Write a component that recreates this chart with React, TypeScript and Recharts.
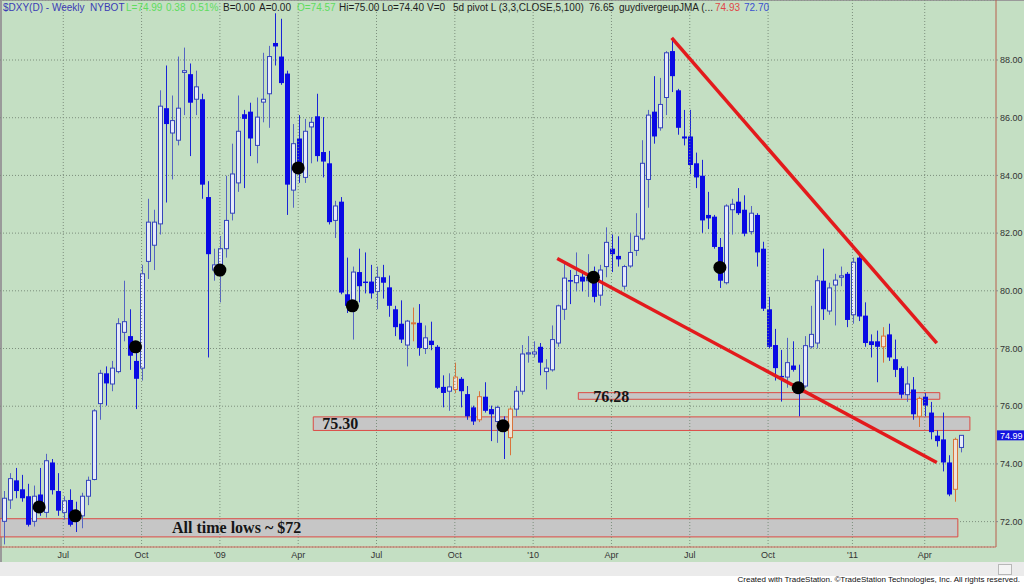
import React from "react";
import {
  ComposedChart,
  Bar,
  XAxis,
  YAxis,
  CartesianGrid,
  ReferenceArea,
  ReferenceLine,
  ReferenceDot,
} from "recharts";

// $DXY weekly bars, mid-Apr 2008 to mid-May 2011
const opens = [
  72.01, 72.75, 73.43, 73.12, 72.88, 72.01, 72.94, 72.32, 74.05, 73.06,
  72.32, 72.75, 72.38, 72.2, 72.88, 73.46, 76.09, 77.14, 76.77, 77.2,
  78.56, 78.43, 77.57, 77.32, 81.02, 81.58, 82.32, 86.33, 85.47, 85.22,
  87.57, 87.51, 86.64, 86.64, 83.25, 80.72, 80.72, 81.46, 82.69, 83.74,
  86.12, 86.21, 85.04, 86.54, 86.83, 88.59, 88.12, 87.53, 83.49, 85.28,
  83.93, 85.68, 86.05, 84.81, 84.42, 82.44, 83.09, 79.88, 79.48, 80.65,
  80.32, 80.32, 79.98, 80.47, 80.12, 79.36, 78.86, 78.12, 78.86, 78.89,
  78.0, 78.27, 78.06, 76.67, 76.52, 76.58, 76.95, 76.42, 75.96, 75.53,
  76.33, 75.9, 75.47, 75.47, 74.91, 75.9, 76.52, 77.81, 77.81, 78.06,
  77.2, 77.26, 78.19, 79.36, 80.37, 80.28, 80.49, 80.35, 80.47, 79.85,
  80.84, 81.46, 81.21, 80.16, 80.86, 81.4, 81.8, 83.86, 86.21, 85.65,
  86.7, 88.31, 86.95, 85.35, 85.35, 84.42, 83.99, 82.63, 82.57, 81.52,
  80.28, 82.81, 83.09, 82.81, 82.05, 82.63, 81.46, 79.36, 78.12, 77.05,
  77.01, 77.41, 76.83, 76.7, 78.06, 78.19, 80.35, 79.3, 80.2, 80.47,
  80.59, 79.17, 81.15, 79.14, 78.25, 78.25, 78.06, 78.49, 77.63, 77.32,
  76.4, 76.58, 75.65, 76.33, 75.78, 74.98, 74.85, 74.05, 73.12, 74.57,
];
const highs = [
  73.06, 73.68, 73.86, 73.62, 73.31, 73.25, 73.86, 74.35, 74.17, 73.68,
  72.88, 73.12, 72.69, 73.0, 73.56, 75.9, 77.26, 77.38, 77.57, 79.05,
  80.35, 79.36, 78.25, 80.9, 83.19, 82.81, 86.95, 87.81, 86.77, 88.12,
  88.43, 87.88, 87.63, 86.83, 83.8, 81.46, 81.9, 83.99, 85.1, 86.77,
  86.27, 86.52, 86.7, 88.25, 88.49, 89.62, 89.43, 87.63, 85.78, 86.09,
  85.96, 86.02, 86.83, 86.02, 84.85, 83.12, 83.25, 81.15, 80.84, 81.46,
  81.33, 80.9, 80.84, 80.9, 80.53, 79.48, 79.67, 78.99, 79.42, 79.54,
  78.8, 78.93, 78.12, 77.07, 77.14, 77.51, 77.01, 76.7, 76.02, 76.52,
  76.83, 76.02, 76.02, 75.65, 75.96, 76.7, 78.12, 78.43, 78.25, 78.19,
  77.63, 78.8, 79.52, 80.96, 80.72, 81.33, 80.72, 81.27, 80.84, 80.9,
  82.2, 81.95, 81.89, 80.9, 82.01, 82.69, 85.22, 86.27, 87.44, 87.38,
  88.31, 88.74, 87.0, 86.27, 86.27, 84.79, 84.54, 83.43, 82.63, 81.83,
  83.0, 83.19, 83.56, 83.31, 82.94, 82.69, 81.7, 79.79, 78.68, 77.95,
  78.37, 78.25, 77.44, 78.43, 79.48, 80.53, 81.46, 80.28, 80.59, 80.84,
  80.65, 81.15, 81.27, 79.6, 78.49, 78.62, 78.74, 78.86, 78.31, 77.38,
  77.38, 77.01, 76.33, 76.46, 76.15, 75.16, 75.78, 74.3, 74.91, 75.0,
];
const lows = [
  71.21, 72.44, 72.81, 72.69, 71.83, 71.83, 72.2, 72.14, 72.94, 72.2,
  72.07, 71.83, 71.64, 71.77, 72.57, 73.43, 75.53, 76.02, 76.52, 77.14,
  78.25, 77.26, 75.9, 76.89, 80.41, 80.72, 81.95, 83.06, 83.86, 85.04,
  86.09, 84.67, 86.09, 83.19, 77.69, 80.35, 79.6, 81.15, 82.44, 83.43,
  83.56, 84.67, 84.42, 85.84, 85.65, 87.81, 87.14, 82.63, 82.88, 83.74,
  83.74, 84.42, 84.48, 83.93, 82.3, 81.83, 79.88, 79.23, 78.31, 79.6,
  79.91, 79.73, 79.36, 79.73, 79.1, 78.43, 78.19, 77.38, 78.25, 77.75,
  77.81, 77.94, 76.6, 75.96, 75.84, 76.46, 75.96, 75.53, 75.35, 75.45,
  75.78, 74.79, 74.73, 74.17, 74.3, 75.65, 76.4, 77.51, 77.69, 77.07,
  76.58, 77.2, 78.06, 78.99, 79.54, 79.98, 79.98, 79.79, 79.6, 79.48,
  80.47, 80.65, 80.84, 80.04, 80.8, 81.21, 81.75, 82.88, 85.1, 85.55,
  86.09, 86.89, 85.41, 85.04, 84.05, 83.56, 82.01, 82.14, 81.46, 80.1,
  80.22, 81.95, 82.63, 81.89, 81.95, 80.84, 79.3, 78.0, 76.89, 76.16,
  76.64, 77.2, 75.65, 76.64, 78.0, 78.0, 78.99, 79.17, 78.8, 80.16,
  78.74, 78.86, 78.95, 78.06, 77.69, 76.83, 77.51, 77.57, 77.01, 76.27,
  76.15, 75.53, 75.28, 75.65, 74.85, 74.6, 73.74, 72.88, 72.69, 74.4,
];
const closes = [
  72.81, 73.49, 73.06, 72.81, 71.89, 72.88, 72.32, 74.11, 73.09, 72.38,
  72.72, 71.89, 72.01, 72.88, 73.43, 75.84, 77.14, 76.79, 77.32, 78.86,
  78.93, 77.75, 76.95, 80.59, 82.38, 82.38, 86.4, 85.78, 85.9, 86.33,
  87.63, 86.52, 87.07, 83.68, 81.27, 80.9, 81.46, 82.44, 84.05, 85.53,
  85.96, 85.28, 86.02, 86.64, 88.12, 88.47, 87.2, 83.68, 85.1, 84.3,
  85.53, 85.84, 84.67, 84.48, 82.38, 82.94, 79.94, 79.48, 80.65, 80.16,
  80.27, 79.91, 80.47, 80.28, 79.48, 78.74, 78.31, 78.95, 78.89, 78.02,
  78.37, 78.12, 76.64, 76.46, 76.67, 77.01, 76.52, 75.65, 75.47, 76.33,
  75.84, 75.72, 75.96, 75.16, 75.9, 76.52, 77.81, 77.85, 77.88, 77.51,
  77.32, 78.31, 79.48, 80.44, 80.32, 80.53, 80.32, 80.47, 79.79, 80.72,
  81.68, 81.27, 81.09, 80.84, 81.33, 81.89, 84.42, 86.09, 85.35, 86.46,
  88.25, 87.44, 85.65, 85.28, 84.36, 83.93, 82.44, 82.51, 81.52, 80.35,
  82.94, 83.0, 82.69, 81.98, 82.69, 81.33, 79.38, 78.06, 77.32, 77.0,
  77.51, 77.26, 76.52, 78.1, 78.49, 80.35, 79.36, 80.1, 80.37, 80.52,
  78.99, 80.99, 79.11, 78.19, 78.12, 78.06, 78.43, 77.69, 77.26, 76.4,
  76.77, 75.72, 76.27, 76.02, 75.1, 74.79, 74.05, 72.94, 74.85, 74.99,
];
// bars the study paints orange
const orangeBars = [68, 75, 79, 84, 146, 152, 158];

// 5d pivot markers
const pivotBars = [6, 12, 22, 36, 49, 58, 83, 98, 119, 132];
const pivotPrices = [72.51, 72.2, 78.06, 80.72, 84.26, 79.48, 75.32, 80.47, 80.81, 76.64];

// support zones
const zoneLabels = ["All time lows ~ $72", "75.30", "76.28"];
const zoneStartBars = [undefined, 52, 96];
const zoneEndBars = [158, 160, 155];
const zoneLows = [71.47, 75.16, 76.24];
const zoneHighs = [72.1, 75.63, 76.47];

// wedge trendlines
const trendFromBars = [111, 92];
const trendFromPrices = [88.77, 81.12];
const trendToBars = [155, 155];
const trendToPrices = [78.19, 74.05];

const monthTickBars = [10, 23, 36, 49, 62, 75, 88, 101, 114, 127, 141, 153];
const monthTickLabels = ["Jul", "Oct", "'09", "Apr", "Jul", "Oct", "'10", "Apr", "Jul", "Oct", "'11", "Apr"];
const priceTicks = [72, 74, 76, 78, 80, 82, 84, 86, 88];

const SLOTS = 165; // empty weeks on the right edge
const data = Array.from({ length: SLOTS }, (_, i) => ({
  i,
  o: opens[i],
  h: highs[i],
  l: lows[i],
  c: closes[i],
  orange: orangeBars.includes(i),
}));
const lastClose = closes[closes.length - 1];

const BG = "#c4dfc3";
const ZONE_LABEL_OFFSET = [172, 9, 15];

function Candle(props: any) {
  const { x, y, width, height, payload } = props;
  if (!payload || payload.o == null) return null;
  const { o, h, l, c, orange } = payload;
  const top = Math.min(y, y + height);
  const span = Math.abs(height);
  const py = (v: number) => top + ((h - v) / (h - l)) * span;
  const cx = Math.round(x + width / 2) + 0.5;
  const up = c >= o;
  const bTop = py(Math.max(o, c));
  const bH = Math.max(py(Math.min(o, c)) - bTop, 1);
  if (orange) {
    return (
      <g>
        <line x1={cx} x2={cx} y1={top} y2={top + span} stroke="#d9733a" />
        <rect x={cx - 2} y={bTop} width={4} height={bH} fill="#efe2d6" stroke="#d9733a" />
      </g>
    );
  }
  if (up) {
    return (
      <g>
        <line x1={cx} x2={cx} y1={top} y2={top + span} stroke="#5565c2" />
        <rect x={cx - 2} y={bTop} width={4} height={bH} fill="#e7ebf8" stroke="#3545bb" />
      </g>
    );
  }
  return (
    <g>
      <line x1={cx} x2={cx} y1={top} y2={top + span} stroke="#1a24d6" />
      <rect x={cx - 2.5} y={bTop} width={5} height={bH} fill="#0a0ae4" />
    </g>
  );
}

const header = [
  { x: 3, color: "#3b3bb5", text: "$DXY(D) - Weekly  NYBOT" },
  { x: 126, color: "#5fdc5f", text: "L=74.99" },
  { x: 166, color: "#5fdc5f", text: "0.38" },
  { x: 190, color: "#5fdc5f", text: "0.51%" },
  { x: 223, color: "#1e1e1e", text: "B=0.00" },
  { x: 259, color: "#1e1e1e", text: "A=0.00" },
  { x: 297, color: "#5fdc5f", text: "O=74.57" },
  { x: 339, color: "#1e1e1e", text: "Hi=75.00" },
  { x: 382, color: "#1e1e1e", text: "Lo=74.40" },
  { x: 427, color: "#1e1e1e", text: "V=0" },
  { x: 453, color: "#1e1e1e", text: "5d pivot L (3,3,CLOSE,5,100)" },
  { x: 589, color: "#1e1e1e", text: "76.65" },
  { x: 619, color: "#1e1e1e", text: "guydivergeupJMA (..." },
  { x: 715, color: "#e04848", text: "74.93" },
  { x: 744, color: "#3a4fd0", text: "72.70" },
];

function PriceTag(props: any) {
  const vb = props.viewBox;
  if (!vb) return null;
  const x = vb.x + vb.width + 1;
  return (
    <g>
      <rect x={x} y={vb.y - 5} width={27} height={10} fill="#1414e0" />
      <text x={x + 3} y={vb.y + 3.5} fill="#ffffff" fontSize={9} fontFamily="Liberation Sans">
        {lastClose.toFixed(2)}
      </text>
    </g>
  );
}

export default function App() {
  return (
    <div style={{ position: "relative", width: 1024, height: 585, background: "#ffffff", overflow: "hidden" }}>
      <style>{`body{margin:0}`}</style>
      <div
        style={{
          position: "absolute",
          left: 0,
          top: 0,
          width: 1024,
          height: 562,
          background: BG,
          boxShadow: "inset 2px 1px 0 #9a9a9a",
        }}
      >
        <ComposedChart width={1024} height={562} data={data} margin={{ top: 0, right: 0, bottom: 0, left: 0 }}>
          <CartesianGrid vertical={false} stroke="#7d8f7d" strokeDasharray="1 2" />
          {monthTickBars.map((b) => (
            <ReferenceLine key={"m" + b} x={b} stroke="#7d8f7d" strokeDasharray="1 2" />
          ))}
          <XAxis
            dataKey="i"
            type="category"
            ticks={monthTickBars}
            interval={0}
            padding={{ left: 0, right: 2 }}
            tickFormatter={(v: number) => monthTickLabels[monthTickBars.indexOf(v)] ?? ""}
            tick={{ fill: "#333", fontSize: 9, fontFamily: "Liberation Sans" }}
            tickLine={false}
            tickSize={3}
            tickMargin={2}
            height={15}
            axisLine={{ stroke: "#cf6a5e" }}
          />
          <YAxis
            orientation="right"
            width={28}
            domain={[71.12, 90.08]}
            allowDataOverflow
            ticks={priceTicks}
            tickFormatter={(v: number) => v.toFixed(2)}
            tick={{ fill: "#333", fontSize: 9, fontFamily: "Liberation Sans" }}
            tickSize={2}
            tickMargin={2}
            tickLine={{ stroke: "#8a8a8a" }}
            axisLine={{ stroke: "#b85e4c" }}
          />
          {zoneLabels.map((lab, k) => (
            <ReferenceArea
              key={lab}
              x1={zoneStartBars[k]}
              x2={zoneEndBars[k]}
              y1={zoneLows[k]}
              y2={zoneHighs[k]}
              fill="#c6c6c6"
              fillOpacity={1}
              stroke="#dc4a44"
              strokeWidth={1}
              label={{
                value: lab,
                position: "insideLeft",
                offset: ZONE_LABEL_OFFSET[k],
                fill: "#151515",
                fontSize: 16,
                fontWeight: "bold",
                fontFamily: "Liberation Serif",
              }}
            />
          ))}
          <Bar
            dataKey={(d: any) => (d.o == null ? null : [d.l, d.h])}
            barSize={5}
            shape={Candle}
            isAnimationActive={false}
          />
          {pivotBars.map((b, k) => (
            <ReferenceDot key={"p" + b} x={b} y={pivotPrices[k]} r={6.5} fill="#000000" stroke="none" />
          ))}
          {trendFromBars.map((b, k) => (
            <ReferenceLine
              key={"t" + k}
              segment={[
                { x: b, y: trendFromPrices[k] },
                { x: trendToBars[k], y: trendToPrices[k] },
              ]}
              stroke="#e31a1c"
              strokeWidth={3.5}
            />
          ))}
          <ReferenceLine y={lastClose} stroke="none" label={PriceTag} />
        </ComposedChart>
      </div>
      {header.map((h) => (
        <span
          key={h.x}
          style={{
            position: "absolute",
            left: h.x,
            top: 2,
            fontFamily: "Liberation Sans",
            fontSize: 10,
            lineHeight: "12px",
            color: h.color,
            whiteSpace: "pre",
          }}
        >
          {h.text}
        </span>
      ))}
      <div style={{ position: "absolute", left: 0, top: 562, width: 1024, height: 14, background: "#ebebeb" }}>
        <div
          style={{
            position: "absolute",
            left: 998,
            top: 2,
            width: 12,
            height: 9,
            background: "#f4f4f4",
            border: "1px solid #b8b8b8",
          }}
        />
      </div>
      <div
        style={{
          position: "absolute",
          right: 4,
          top: 575,
          fontFamily: "Liberation Sans",
          fontSize: 8,
          lineHeight: "10px",
          color: "#111",
          whiteSpace: "nowrap",
        }}
      >
        Created with TradeStation. ©TradeStation Technologies, Inc. All rights reserved.
      </div>
    </div>
  );
}
